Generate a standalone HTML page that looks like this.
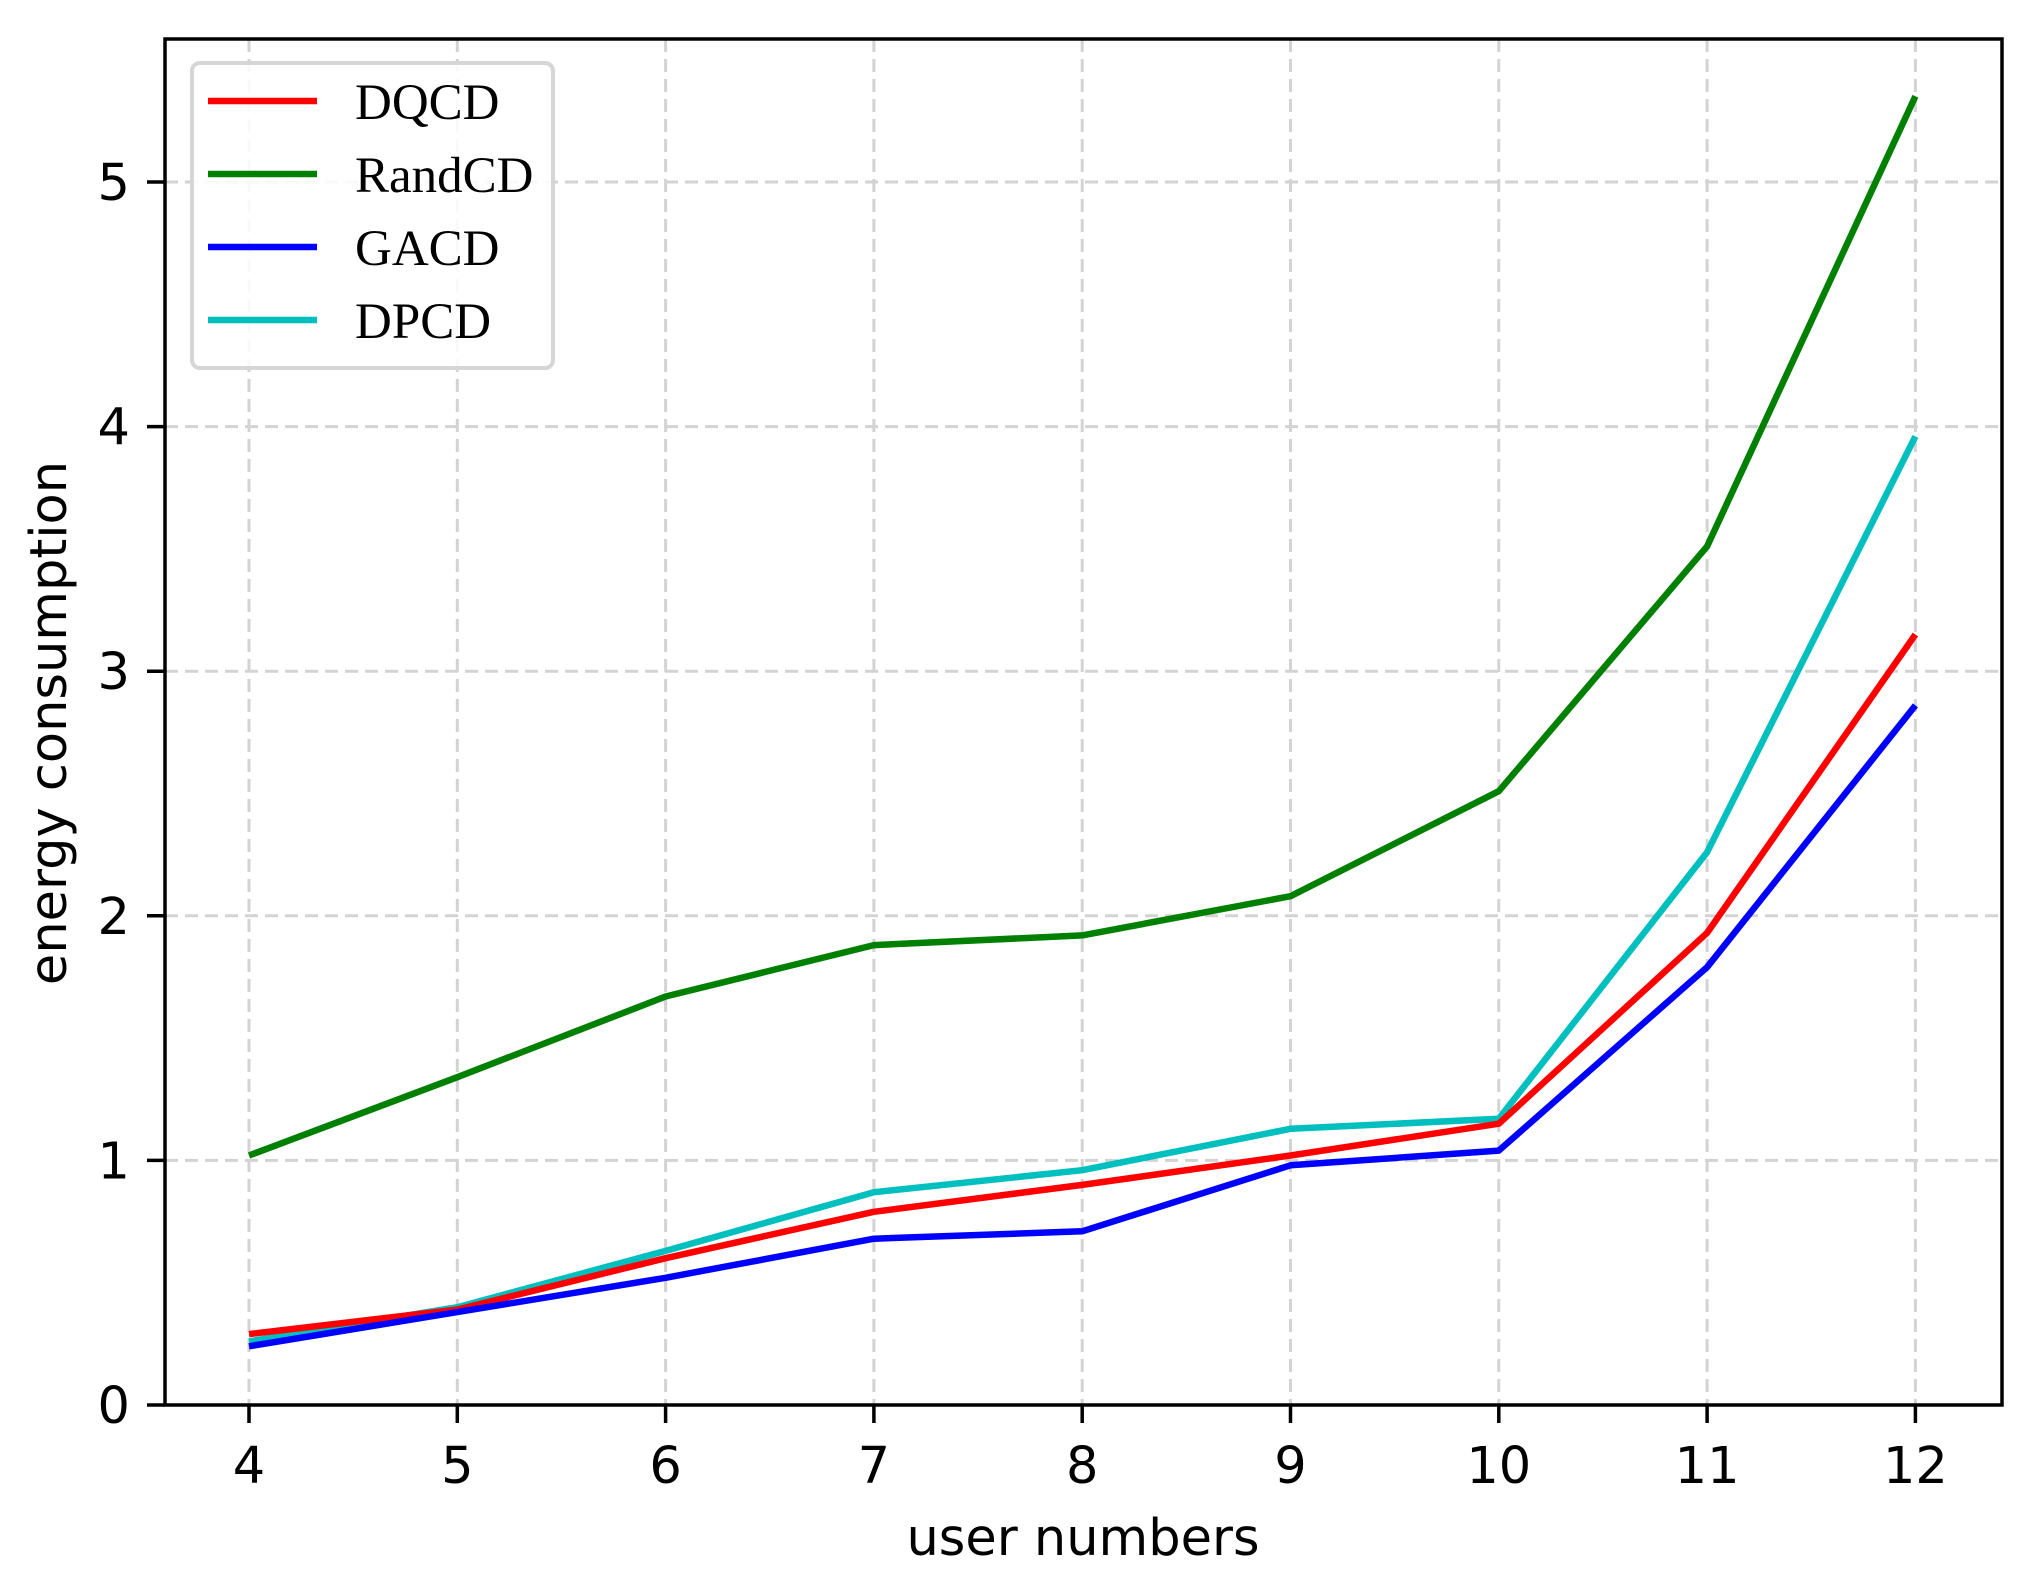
<!DOCTYPE html>
<html><head><meta charset="utf-8"><style>
html,body{margin:0;padding:0;background:#fff}
svg{display:block}
</style></head><body>
<svg width="2031" height="1585" viewBox="0 0 2031 1585" xmlns="http://www.w3.org/2000/svg">
<rect width="2031" height="1585" fill="#fff"/>
<g stroke="#d3d3d3" stroke-width="3" stroke-dasharray="13,7" fill="none">
<line x1="249" y1="39" x2="249" y2="1405"/>
<line x1="457.3" y1="39" x2="457.3" y2="1405"/>
<line x1="665.6" y1="39" x2="665.6" y2="1405"/>
<line x1="873.9" y1="39" x2="873.9" y2="1405"/>
<line x1="1082.2" y1="39" x2="1082.2" y2="1405"/>
<line x1="1290.5" y1="39" x2="1290.5" y2="1405"/>
<line x1="1498.8" y1="39" x2="1498.8" y2="1405"/>
<line x1="1707.1" y1="39" x2="1707.1" y2="1405"/>
<line x1="1915.4" y1="39" x2="1915.4" y2="1405"/>
<line x1="165" y1="1405" x2="2002" y2="1405"/>
<line x1="165" y1="1160.4" x2="2002" y2="1160.4"/>
<line x1="165" y1="915.8" x2="2002" y2="915.8"/>
<line x1="165" y1="671.2" x2="2002" y2="671.2"/>
<line x1="165" y1="426.6" x2="2002" y2="426.6"/>
<line x1="165" y1="182" x2="2002" y2="182"/>
</g>
<g fill="none" stroke-width="6.5" stroke-linejoin="round">
<polyline stroke="#008000" points="249,1155.5 457.3,1077.2 665.6,996.5 873.9,945.1 1082.2,935.4 1290.5,896.2 1498.8,791.2 1707.1,546.4 1915.4,96.3"/>
<polyline stroke="#00bfbf" points="249,1341.4 457.3,1307.2 665.6,1250.9 873.9,1192.2 1082.2,1170.2 1290.5,1128.8 1498.8,1118.8 1707.1,852.2 1915.4,436.4"/>
<polyline stroke="#ff0000" points="249,1334.1 457.3,1309.6 665.6,1258.2 873.9,1211.8 1082.2,1184.9 1290.5,1155.5 1498.8,1123.7 1707.1,932.9 1915.4,634.5"/>
<polyline stroke="#0000ff" points="249,1346.3 457.3,1312.1 665.6,1277.8 873.9,1238.7 1082.2,1231.3 1290.5,1165.3 1498.8,1150.6 1707.1,967.2 1915.4,705.4"/>
</g>
<rect x="165" y="39" width="1837" height="1366" fill="none" stroke="#000" stroke-width="3.5"/>
<g stroke="#000" stroke-width="3.5">
<line x1="249" y1="1405" x2="249" y2="1423"/>
<line x1="457.3" y1="1405" x2="457.3" y2="1423"/>
<line x1="665.6" y1="1405" x2="665.6" y2="1423"/>
<line x1="873.9" y1="1405" x2="873.9" y2="1423"/>
<line x1="1082.2" y1="1405" x2="1082.2" y2="1423"/>
<line x1="1290.5" y1="1405" x2="1290.5" y2="1423"/>
<line x1="1498.8" y1="1405" x2="1498.8" y2="1423"/>
<line x1="1707.1" y1="1405" x2="1707.1" y2="1423"/>
<line x1="1915.4" y1="1405" x2="1915.4" y2="1423"/>
<line x1="147" y1="1405" x2="165" y2="1405"/>
<line x1="147" y1="1160.4" x2="165" y2="1160.4"/>
<line x1="147" y1="915.8" x2="165" y2="915.8"/>
<line x1="147" y1="671.2" x2="165" y2="671.2"/>
<line x1="147" y1="426.6" x2="165" y2="426.6"/>
<line x1="147" y1="182" x2="165" y2="182"/>
</g>
<g font-family="'DejaVu Sans', sans-serif" font-size="51" fill="#000">
<g text-anchor="middle">
<text x="249" y="1483">4</text><text x="457.3" y="1483">5</text><text x="665.6" y="1483">6</text>
<text x="873.9" y="1483">7</text><text x="1082.2" y="1483">8</text><text x="1290.5" y="1483">9</text>
<text x="1498.8" y="1483">10</text><text x="1707.1" y="1483">11</text><text x="1915.4" y="1483">12</text>
<text x="1083" y="1555">user numbers</text>
<text transform="translate(66,723) rotate(-90)">energy consumption</text>
</g>
<g text-anchor="end">
<text x="130" y="1423">0</text><text x="130" y="1178.4">1</text><text x="130" y="933.8">2</text>
<text x="130" y="689.2">3</text><text x="130" y="444.6">4</text><text x="130" y="200">5</text>
</g>
</g>
<rect x="192" y="63" width="361" height="305" rx="8" fill="#fff" fill-opacity="0.85" stroke="#d6d6d6" stroke-width="4"/>
<g stroke-width="6.5">
<line x1="208" y1="101" x2="317" y2="101" stroke="#ff0000"/>
<line x1="208" y1="174" x2="317" y2="174" stroke="#008000"/>
<line x1="208" y1="247" x2="317" y2="247" stroke="#0000ff"/>
<line x1="208" y1="320" x2="317" y2="320" stroke="#00bfbf"/>
</g>
<g font-family="'Liberation Serif', serif" font-size="51" fill="#000">
<text x="355" y="119">DQCD</text>
<text x="355" y="192">RandCD</text>
<text x="355" y="265">GACD</text>
<text x="355" y="338">DPCD</text>
</g>
</svg>
</body></html>
